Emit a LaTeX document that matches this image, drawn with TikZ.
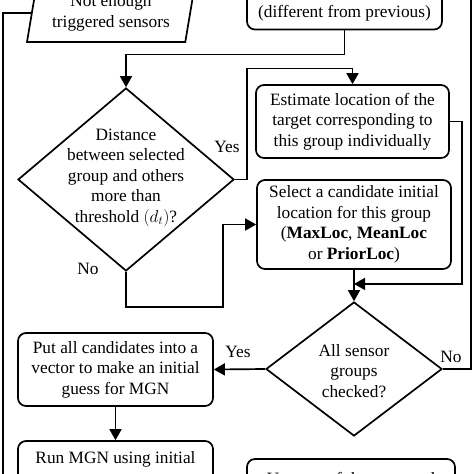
\documentclass[tikz,border=0pt]{standalone}
\usepackage{fontspec}
\setmainfont{Liberation Serif}
\usetikzlibrary{shapes.geometric,arrows.meta,calc}
\begin{document}
\begin{tikzpicture}[x=1pt,y=-1pt,
  every node/.style={font=\fontsize{17.3}{20.5}\selectfont},
  rbox/.style={draw, rounded corners=8pt, align=center, inner sep=0pt, line width=1.7pt},
  pgram/.style={draw, trapezium, trapezium left angle=75, trapezium right angle=105,
    trapezium stretches body, align=center, inner sep=0pt, line width=1.7pt},
  dia/.style={draw, diamond, inner sep=0pt, line width=1.7pt},
  txt/.style={align=center, inner sep=0pt},
  lbl/.style={inner sep=0pt},
  conn/.style={line width=1.7pt},
  arr/.style={line width=1.7pt, -{Triangle[length=11pt,width=12pt]}}
]
\useasboundingbox (0,0) rectangle (474,474);
\clip (0,0) rectangle (474,474);

\node[pgram, minimum width=168pt, minimum height=58pt] (nes) at (111,13) {Not enough\\triggered sensors};
\node[rbox, minimum width=195pt, minimum height=53pt] (sel) at (344.5,3) {Select a new sensor group\\(different from previous)};
\node[rbox, minimum width=193pt, minimum height=73pt] (est) at (352.5,121.5) {Estimate location of the\\target corresponding to\\this group individually};
\node[rbox, minimum width=194pt, minimum height=89pt] (slc) at (354,224.5) {Select a candidate initial\\location for this group\\(\textbf{MaxLoc}, \textbf{MeanLoc}\\or \textbf{PriorLoc})};
\node[rbox, minimum width=195pt, minimum height=73pt] (put) at (115.5,369.5) {Put all candidates into a\\vector to make an initial\\guess for MGN};
\node[rbox, minimum width=195pt, minimum height=73pt] (run) at (115.5,477.5) {Run MGN using initial\\\mbox{}\\\mbox{}};
\node[rbox, minimum width=208pt, minimum height=80pt] (use) at (351,499) {Use one of the proposed\\\mbox{}\\\mbox{}};

\node[dia, minimum width=216pt, minimum height=183pt] (d1) at (126,179.5) {};
\node[txt] (d1t) at (126,177.5) {Distance\\between selected\\group and others\\more than\\threshold $(d_t)$?};
\node[dia, minimum width=176pt, minimum height=134pt] (d2) at (354,369) {};
\node[txt] (d2t) at (354,371) {All sensor\\groups\\checked?};

\node[lbl] (y1) at (227,147) {Yes};
\node[lbl] (n1) at (88,269) {No};
\node[lbl] (y2) at (238,352) {Yes};
\node[lbl] (n2) at (451,357) {No};

\coordinate (lb) at (3,480);
\coordinate (rt) at (471,-30);

\draw[conn] (nes.west) -| (lb);
\draw[arr] (sel.south) -- ++(0,24) -| (d1.north);
\draw[arr] (d1.east) -- ++(12,0) -- ++(0,-111) -| (est.north);
\draw[arr] (d1.south) -- ++(0,35) -- ++(97,0) |- (slc.west);
\draw[arr] (slc.south) -- (d2.north);
\draw[arr] (est.east) -- ++(12,0) |- ($(slc.south)!0.45!(d2.north)$);
\draw[arr] (d2.west) -- (put.east);
\draw[conn] (d2.east) -| (rt);
\draw[arr] (put.south) -- (run.north);
\end{tikzpicture}
\end{document}
